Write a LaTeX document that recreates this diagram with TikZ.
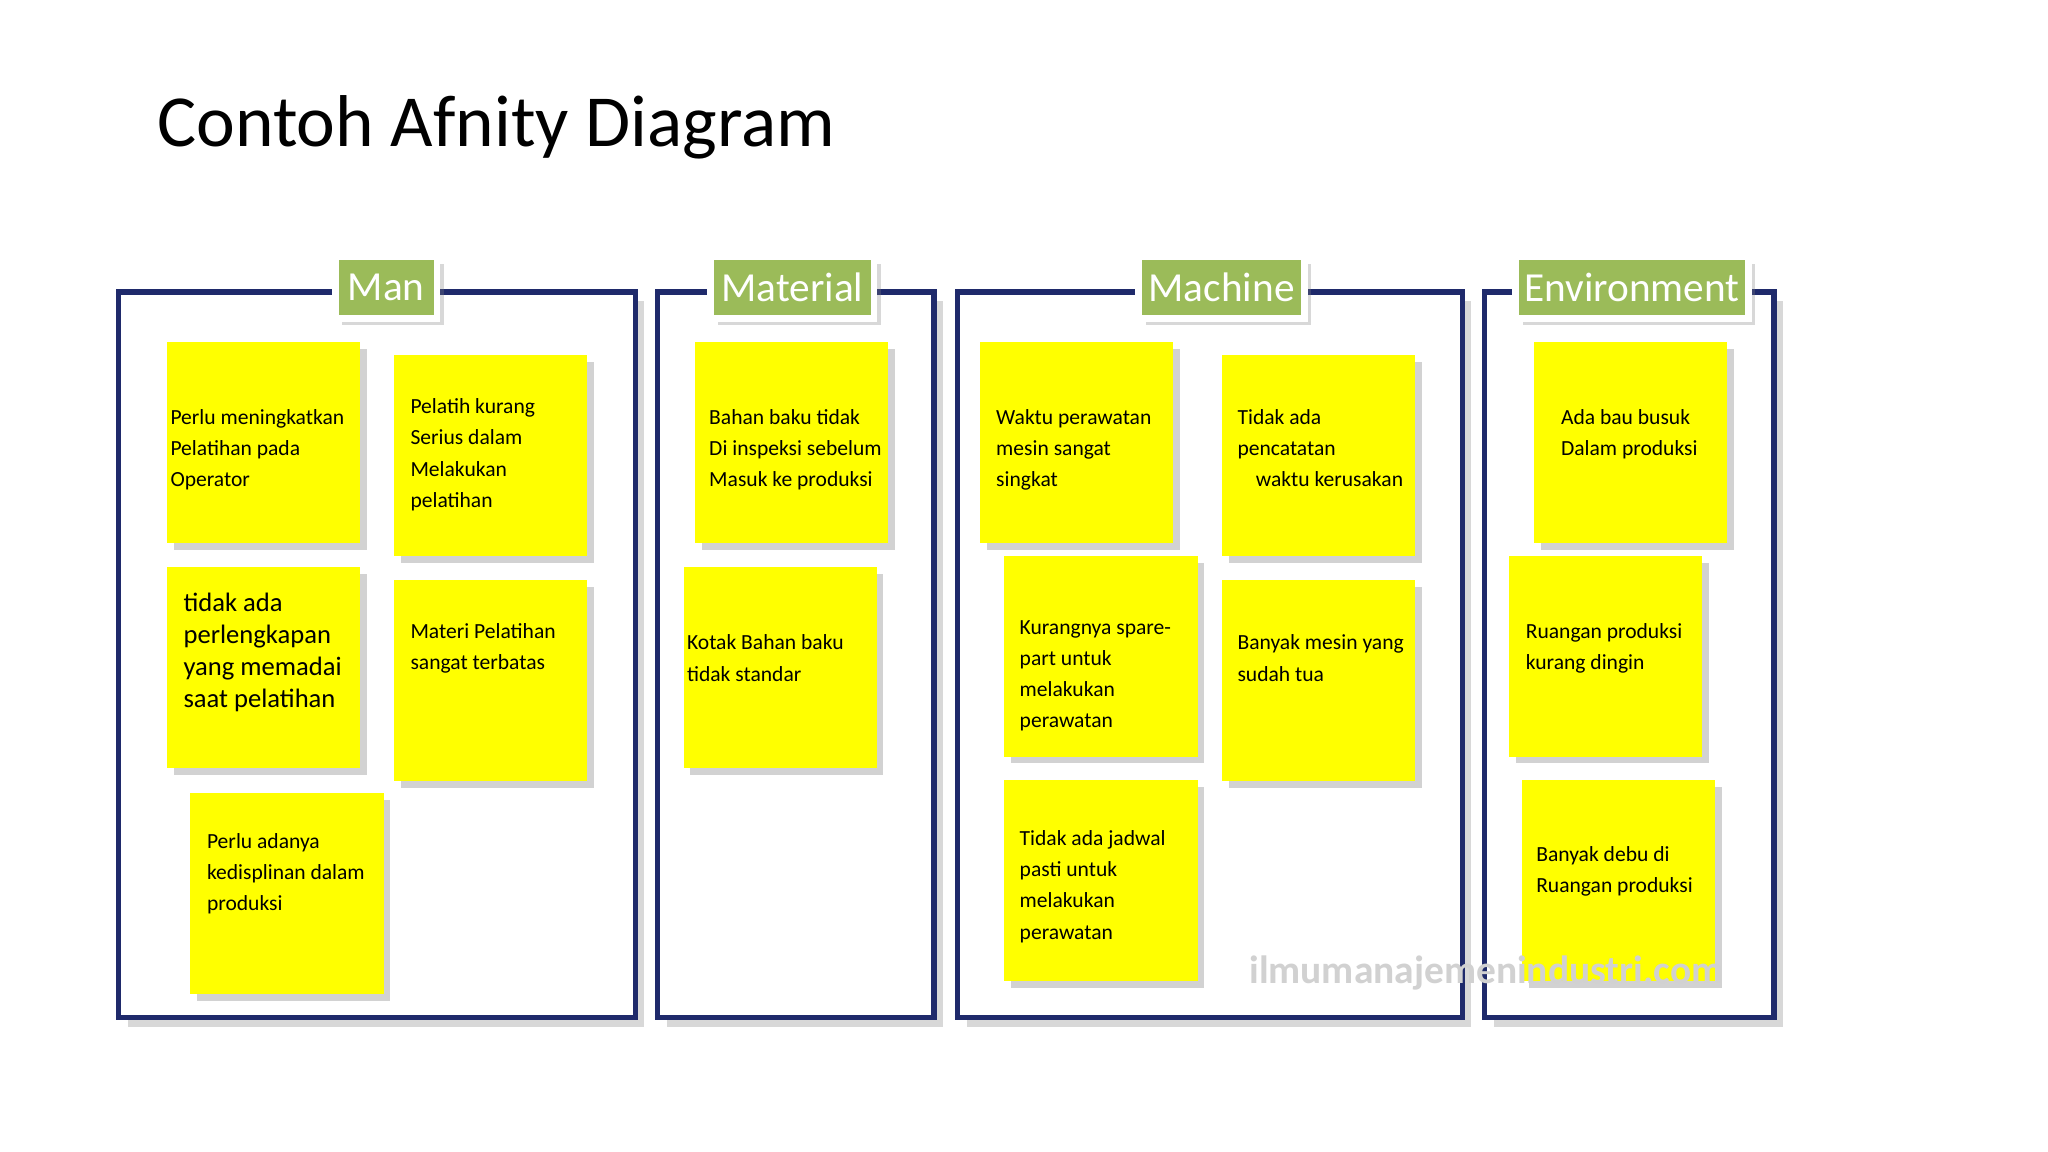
\documentclass[tikz,border=0pt]{standalone}
\usepackage{fontspec}
\setmainfont{Carlito}
\newfontfamily\hand{Carlito}
\usetikzlibrary{shadows}
\definecolor{navy}{HTML}{1F2A6B}
\definecolor{lgreen}{HTML}{9BBB59}
\definecolor{sticky}{HTML}{FFFF00}
\tikzset{
 frame/.style={draw=navy,line width=1.2pt,fill=white,drop shadow={shadow xshift=2pt,shadow yshift=-2pt,opacity=0.3}},
 lab/.style={fill=lgreen,draw=white,line width=1.5pt,text=white,font=\fontsize{9}{11}\selectfont,inner sep=0pt,drop shadow={shadow xshift=1.5pt,shadow yshift=-1.5pt,opacity=0.3}},
 note/.style={fill=sticky,drop shadow={shadow xshift=1.5pt,shadow yshift=-1.5pt,opacity=0.35}},
 ntext/.style={anchor=north west,align=left,inner sep=0pt,font=\hand\fontsize{4.7}{6.8}\selectfont},
}
\begin{document}
\begin{tikzpicture}[x=0.01cm,y=-0.01cm]
\useasboundingbox (0,0) rectangle (1570,883);
\fill[white] (0,0) rectangle (1570,883);
\node[anchor=base west,inner sep=0pt,font=\fontsize{16}{19}\selectfont] (title) at (120,112) {Contoh Afnity Diagram};
% frames
\draw[frame] (91,224) rectangle (487,780);
\draw[frame] (504,224) rectangle (716,780);
\draw[frame] (734,224) rectangle (1121,780);
\draw[frame] (1138,224) rectangle (1360,780);
% labels
\node[lab,minimum width=0.78cm,minimum height=0.47cm] (lman) at (296,220.5) {Man};
\node[lab,minimum width=1.25cm,minimum height=0.47cm] (lmat) at (607.5,220.5) {Material};
\node[lab,minimum width=1.27cm,minimum height=0.47cm] (lmac) at (936.5,220.5) {Machine};
\node[lab,minimum width=1.78cm,minimum height=0.47cm] (lenv) at (1251,220.5) {Environment};
% notes
\newcommand\stick[5]{\fill[note] (#1,#2) rectangle ++(148,154); \node[ntext] at (#3,#4) {#5};}
\stick{128}{262}{130}{313}{Perlu meningkatkan\\Pelatihan pada\\Operator}
\stick{302}{272}{314}{305}{Pelatih kurang\\Serius dalam\\Melakukan\\pelatihan}
\fill[note] (128,435) rectangle ++(148,154);
\node[ntext,font=\hand\fontsize{5.8}{7}\selectfont] at (140,454) {tidak ada\\perlengkapan\\yang memadai\\saat pelatihan};
\stick{302}{445}{314}{477}{Materi Pelatihan\\sangat terbatas}
\stick{146}{608}{158}{638}{Perlu adanya\\kedisplinan dalam\\produksi}
\stick{533}{262}{543}{313}{Bahan baku tidak\\Di inspeksi sebelum\\Masuk ke produksi}
\stick{524}{435}{526}{486}{Kotak Bahan baku\\tidak standar}
\stick{751}{262}{763}{313}{Waktu perawatan\\mesin sangat\\singkat}
\stick{937}{272}{948}{313}{Tidak ada\\pencatatan\\\hspace*{4pt}waktu kerusakan}
\stick{770}{426}{781}{475}{Kurangnya spare-\\part untuk\\melakukan\\perawatan}
\stick{937}{445}{948}{486}{Banyak mesin yang\\sudah tua}
\stick{770}{598}{781}{636}{Tidak ada jadwal\\pasti untuk\\melakukan\\perawatan}
\stick{1176}{262}{1196}{313}{Ada bau busuk\\Dalam produksi}
\stick{1157}{426}{1169}{477}{Ruangan produksi\\kurang dingin}
\stick{1167}{598}{1177}{648}{Banyak debu di\\Ruangan produksi}
\node[anchor=west,inner sep=0pt,text=black!18,font=\bfseries\fontsize{8.6}{10}\selectfont] (wm) at (957,746) {ilmumanajemenindustri.com};
\end{tikzpicture}
\end{document}
